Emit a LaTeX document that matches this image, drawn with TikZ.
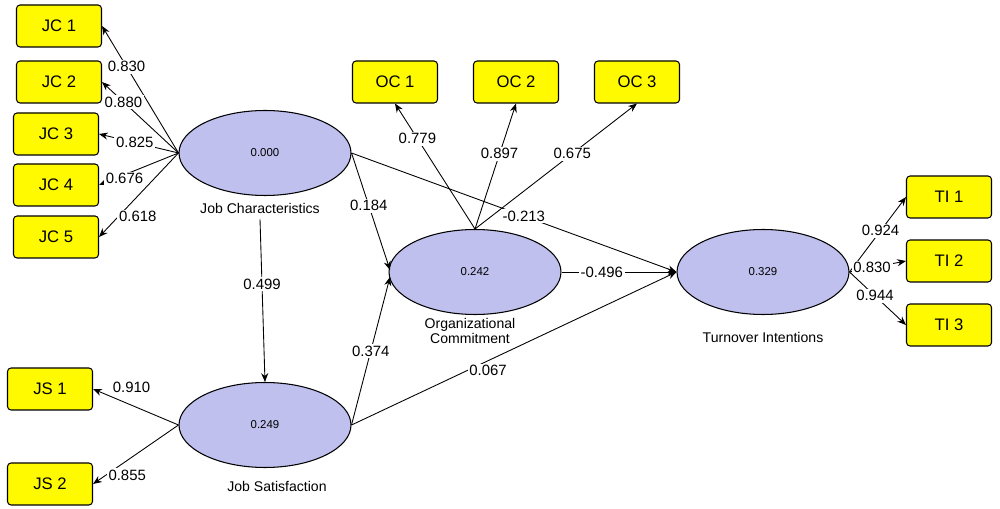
\documentclass[tikz,border=0pt]{standalone}
\usepackage{fontspec}
\setmainfont{Liberation Sans}
\usetikzlibrary{arrows.meta,shapes.geometric}
\definecolor{lvfill}{RGB}{192,192,238}
\definecolor{ybox}{RGB}{255,250,0}
\begin{document}
\begin{tikzpicture}[x=0.02cm,y=-0.02cm,
 box/.style={draw,fill=ybox,rounded corners=2pt,minimum width=1.7cm,minimum height=0.84cm,font=\fontsize{9.5}{11}\selectfont,line width=0.6pt},
 lv/.style={draw,fill=lvfill,ellipse,minimum width=3.44cm,minimum height=1.7cm,font=\fontsize{6.5}{8}\selectfont,line width=0.6pt},
 lab/.style={font=\fontsize{8.5}{10}\selectfont,fill=white,inner sep=1pt},
 nm/.style={font=\fontsize{8}{10}\selectfont,align=center},
 ar/.style={-{Stealth[length=5pt,width=4pt]},line width=0.5pt}]
\useasboundingbox (0,0) rectangle (1000,509);
% latent
\node[lv] (JC) at (265,153) {0.000};
\node[lv] (OrgC) at (475,272) {0.242};
\node[lv] (TI) at (763,272) {0.329};
\node[lv] (JS) at (265,425) {0.249};
\node[nm] (JCl) at (260,208) {Job Characteristics};
\node[nm] (OCl) at (470,331) {Organizational\\[-2pt]Commitment};
\node[nm] (TIl) at (763,337) {Turnover Intentions};
\node[nm] (JSl) at (277,486) {Job Satisfaction};
% boxes
\node[box] (JC1) at (59,26) {JC 1};
\node[box] (JC2) at (59,82) {JC 2};
\node[box] (JC3) at (56,134) {JC 3};
\node[box] (JC4) at (56,185) {JC 4};
\node[box] (JC5) at (56,237) {JC 5};
\node[box] (JS1) at (50,389) {JS 1};
\node[box] (JS2) at (50,484) {JS 2};
\node[box] (OC1) at (395,82) {OC 1};
\node[box] (OC2) at (516,82) {OC 2};
\node[box] (OC3) at (637,82) {OC 3};
\node[box] (TI1) at (949,197) {TI 1};
\node[box] (TI2) at (949,261) {TI 2};
\node[box] (TI3) at (949,325) {TI 3};
\coordinate (OCw) at (390,270);
\coordinate (OCsw) at (390,277);
% indicator paths
\draw[ar] (JC.west) -- node[lab,pos=0.68]{0.830} (JC1.east);
\draw[ar] (JC.west) -- node[lab,pos=0.72]{0.880} (JC2.east);
\draw[ar] (JC.west) -- node[lab,pos=0.55]{0.825} (JC3.east);
\draw[ar] (JC.west) -- node[lab,pos=0.68,yshift=-0.08cm]{0.676} (JC4.east);
\draw[ar] (JC.west) -- node[lab,pos=0.7,xshift=0.3cm,yshift=-0.1cm]{0.618} (JC5.east);
\draw[ar] (JS.west) -- node[lab,pos=0.55,yshift=0.35cm]{0.910} (JS1.east);
\draw[ar] (JS.west) -- node[lab,pos=0.6,yshift=-0.3cm]{0.855} (JS2.east);
\draw[ar] (OrgC.north) -- node[lab,pos=0.72]{0.779} (OC1.south);
\draw[ar] (OrgC.north) -- node[lab,pos=0.6]{0.897} (OC2.south);
\draw[ar] (OrgC.north) -- node[lab,pos=0.6]{0.675} (OC3.south);
\draw[ar] (TI.east) -- node[lab,pos=0.55]{0.924} (TI1.west);
\draw[ar] (TI.east) -- node[lab,pos=0.4]{0.830} (TI2.west);
\draw[ar] (TI.east) -- node[lab,pos=0.45]{0.944} (TI3.west);
% structural
\draw[ar] (JC.east) -- node[lab,pos=0.45]{0.184} (OCw);
\draw[ar] (JC.east) -- node[lab,pos=0.53]{-0.213} (TI.west);
\draw[ar] (JCl.south) -- node[lab,pos=0.4]{0.499} (JS.north);
\draw[ar] (JS.east) -- node[lab,pos=0.5]{0.374} (OCsw);
\draw[ar] (JS.east) -- node[lab,pos=0.42,yshift=-0.2cm]{0.067} (TI.west);
\draw[ar] (OrgC.east) -- node[lab,pos=0.35]{-0.496} (TI.west);
\end{tikzpicture}
\end{document}
